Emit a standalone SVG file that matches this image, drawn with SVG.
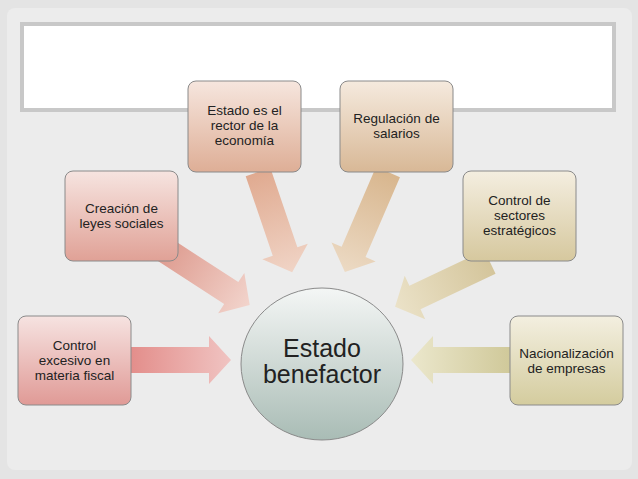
<svg xmlns="http://www.w3.org/2000/svg" width="638" height="479" viewBox="0 0 638 479">
<style>
.box{stroke:#8a8a8a;stroke-width:1}
.t{font-family:"Liberation Sans",Arial,sans-serif;font-size:13.5px;fill:#222;text-anchor:middle}
</style>
<defs>
<linearGradient id="g1" x1="0" y1="0" x2="0" y2="1"><stop offset="0" stop-color="#f6e3e1"/><stop offset="1" stop-color="#e09a96"/></linearGradient>
<linearGradient id="g2" x1="0" y1="0" x2="0" y2="1"><stop offset="0" stop-color="#f6e4e0"/><stop offset="1" stop-color="#e0a196"/></linearGradient>
<linearGradient id="g3" x1="0" y1="0" x2="0" y2="1"><stop offset="0" stop-color="#f6e6de"/><stop offset="1" stop-color="#deae96"/></linearGradient>
<linearGradient id="g4" x1="0" y1="0" x2="0" y2="1"><stop offset="0" stop-color="#f5eade"/><stop offset="1" stop-color="#d8b896"/></linearGradient>
<linearGradient id="g5" x1="0" y1="0" x2="0" y2="1"><stop offset="0" stop-color="#f4eee0"/><stop offset="1" stop-color="#d6c89e"/></linearGradient>
<linearGradient id="g6" x1="0" y1="0" x2="0" y2="1"><stop offset="0" stop-color="#f3efe0"/><stop offset="1" stop-color="#d4cc9e"/></linearGradient>
<linearGradient id="gc" x1="0" y1="0" x2="0" y2="1"><stop offset="0" stop-color="#f4f6f5"/><stop offset="1" stop-color="#a9bcb5"/></linearGradient>
<linearGradient id="a1" x1="0" y1="0" x2="1" y2="0"><stop offset="0" stop-color="#e38e8b"/><stop offset="1" stop-color="#f0c4c2"/></linearGradient>
<linearGradient id="a2" x1="0" y1="0" x2="1" y2="0"><stop offset="0" stop-color="#de9c90"/><stop offset="1" stop-color="#f2d4cc"/></linearGradient>
<linearGradient id="a3" x1="0" y1="0" x2="1" y2="0"><stop offset="0" stop-color="#e0aa90"/><stop offset="1" stop-color="#f0d4c6"/></linearGradient>
<linearGradient id="a4" x1="0" y1="0" x2="1" y2="0"><stop offset="0" stop-color="#d8b68e"/><stop offset="1" stop-color="#ecdac4"/></linearGradient>
<linearGradient id="a5" x1="0" y1="0" x2="1" y2="0"><stop offset="0" stop-color="#d4c59b"/><stop offset="1" stop-color="#ebe2c8"/></linearGradient>
<linearGradient id="a6" x1="0" y1="0" x2="1" y2="0"><stop offset="0" stop-color="#d0c99a"/><stop offset="1" stop-color="#ebe7cc"/></linearGradient>
</defs>
<rect width="638" height="479" fill="#e4e4e4"/>
<rect x="7" y="8" width="625" height="462" rx="8" fill="#ececec"/>
<rect x="22" y="24" width="592" height="86" fill="#fff" stroke="#c8c8c8" stroke-width="4"/>
<g id="connectors">
<path transform="translate(131,360)" d="M0,-13 L78,-13 L78,-24 L100,0 L78,24 L78,13 L0,13 Z" fill="url(#a1)"/>
<path transform="translate(510,360) rotate(180)" d="M0,-13 L77,-13 L77,-24 L99,0 L77,24 L77,13 L0,13 Z" fill="url(#a6)"/>
<path transform="translate(165,250) rotate(33)" d="M0,-13 L79,-13 L79,-24 L101,0 L79,24 L79,13 L0,13 Z" fill="url(#a2)"/>
<path transform="translate(258,172) rotate(71.2)" d="M0,-13 L84,-13 L84,-24 L106,0 L84,24 L84,13 L0,13 Z" fill="url(#a3)"/>
<path transform="translate(388,172) rotate(113.3)" d="M0,-13 L87,-13 L87,-24 L109,0 L87,24 L87,13 L0,13 Z" fill="url(#a4)"/>
<path transform="translate(490,262) rotate(154.7)" d="M0,-13 L83,-13 L83,-24 L105,0 L83,24 L83,13 L0,13 Z" fill="url(#a5)"/>
</g>
<g id="n-rector"><rect class="box" x="188" y="81" width="113" height="91" rx="8" fill="url(#g3)"/>
<text class="t" x="244.5" y="115">Estado es el</text><text class="t" x="244.5" y="130">rector de la</text><text class="t" x="244.5" y="145">economía</text></g>
<g id="n-regulacion"><rect class="box" x="340" y="81" width="113" height="91" rx="8" fill="url(#g4)"/>
<text class="t" x="396.5" y="123">Regulación de</text><text class="t" x="396.5" y="138">salarios</text></g>
<g id="n-creacion"><rect class="box" x="65" y="171" width="113" height="90" rx="8" fill="url(#g2)"/>
<text class="t" x="121.5" y="213">Creación de</text><text class="t" x="121.5" y="228">leyes sociales</text></g>
<g id="n-sectores"><rect class="box" x="463" y="171" width="113" height="90" rx="8" fill="url(#g5)"/>
<text class="t" x="519.5" y="205">Control de</text><text class="t" x="519.5" y="220">sectores</text><text class="t" x="519.5" y="235">estratégicos</text></g>
<g id="n-fiscal"><rect class="box" x="18" y="316" width="113" height="89" rx="8" fill="url(#g1)"/>
<text class="t" x="74.5" y="350">Control</text><text class="t" x="74.5" y="365">excesivo en</text><text class="t" x="74.5" y="380">materia fiscal</text></g>
<g id="n-nacional"><rect class="box" x="510" y="316" width="113" height="89" rx="8" fill="url(#g6)"/>
<text class="t" x="566.5" y="358">Nacionalización</text><text class="t" x="566.5" y="373">de empresas</text></g>
<g id="n-centro"><ellipse cx="322" cy="364" rx="81" ry="76" fill="url(#gc)" stroke="#8a8a8a"/>
<text class="t" x="322" y="357" style="font-size:25px">Estado</text><text class="t" x="322" y="383" style="font-size:25px">benefactor</text></g>
</svg>
